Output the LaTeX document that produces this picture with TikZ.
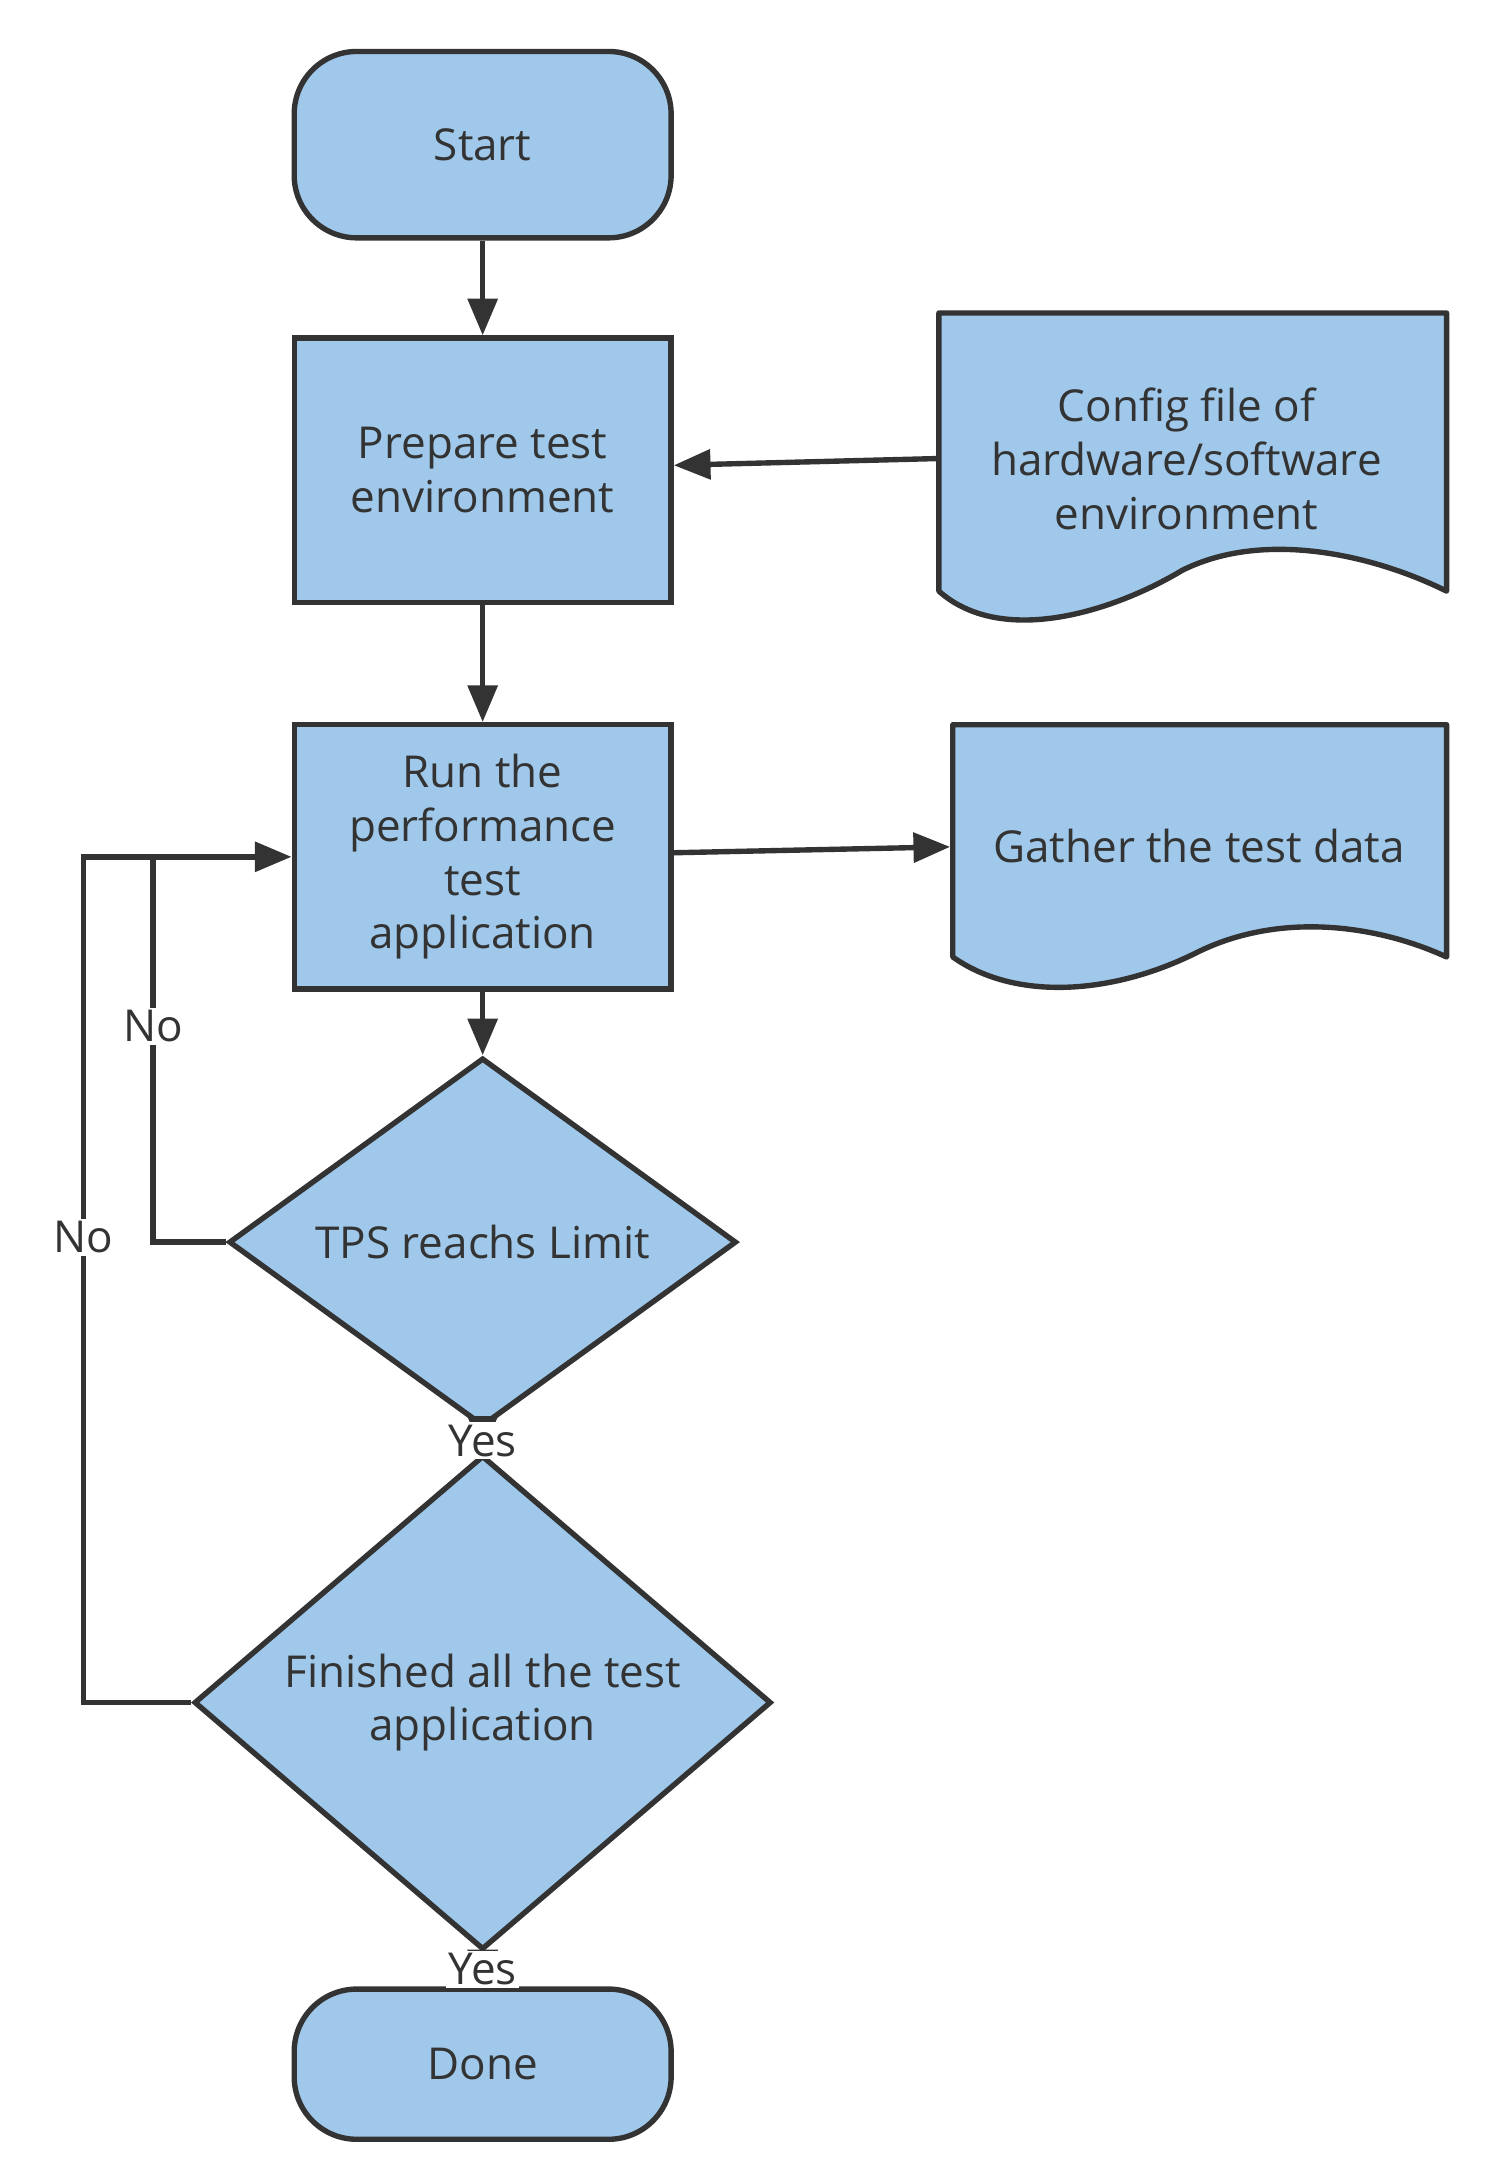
\documentclass[tikz,border=0pt]{standalone}
\usepackage{fontspec}
\setmainfont{Open Sans}
\usetikzlibrary{arrows.meta,shapes.geometric}
\definecolor{boxfill}{HTML}{9FC8EA}
\definecolor{ink}{HTML}{333333}
\begin{document}
\begin{tikzpicture}[
    x=0.02cm, y=-0.02cm,
    line width=2.2pt,
    every node/.style={font=\fontsize{18}{22}\selectfont, text=ink, align=center},
    proc/.style={draw=ink, fill=boxfill, minimum width=271*0.02cm, minimum height=190*0.02cm},
    term/.style={draw=ink, fill=boxfill, rounded corners=0.9cm, minimum width=271*0.02cm},
    dec/.style={draw=ink, fill=boxfill, diamond, inner sep=0pt},
    doc/.style={draw=ink, fill=boxfill, line join=round},
    arr/.style={draw=ink, -{Triangle[length=15pt,width=12pt]}},
    lbl/.style={fill=white, inner sep=1pt}
  ]
  \useasboundingbox (0,0) rectangle (1080,1568);
  % terminals and processes
  \node[term, minimum height=134*0.02cm] (start) at (347,104) {Start};
  \node[proc] (prep) at (347,338) {Prepare test\\environment};
  \node[proc] (run) at (347,616) {Run the\\performance\\test\\application};
  \node[term, minimum height=108*0.02cm] (done) at (347,1484) {Done};
  % decisions
  \node[dec, minimum width=365*0.02cm, minimum height=202*0.02cm] (tps) at (347,893) {TPS reachs Limit};
  \node[dec, minimum width=415*0.02cm, minimum height=308*0.02cm] (fin) at (347,1224) {Finished all the test\\application};
  % documents
  \draw[doc] (675,225) -- (1040,225) -- (1040,425)
    .. controls (990,400) and (910,380) .. (850,410)
    .. controls (800,440) and (720,465) .. (675,425) -- cycle;
  \node[minimum width=365*0.02cm, minimum height=200*0.02cm] (cfg) at (857.5,325) {};
  \node at (853,330) {Config file of\\hardware/software\\environment};
  \draw[doc] (685,521) -- (1040,521) -- (1040,688)
    .. controls (990,665) and (920,655) .. (860,685)
    .. controls (800,715) and (730,720) .. (685,688) -- cycle;
  \node[minimum width=355*0.02cm, minimum height=170*0.02cm] (gath) at (862.5,605) {};
  \node at (862,608) {Gather the test data};
  % connectors
  \draw[arr] (start) -- (prep);
  \draw[arr] (cfg) -- (prep);
  \draw[arr] (prep) -- (run);
  \draw[arr] (run) -- (gath);
  \draw[arr] (run) -- (tps);
  \draw[arr] (tps) -- node[lbl, pos=0.5] {Yes} (fin);
  \draw[arr] (fin) -- node[lbl, pos=0.5] {Yes} (done);
  \coordinate (l1) at (110,893);
  \coordinate (l1t) at (110,616);
  \coordinate (l2) at (60,1224);
  \coordinate (l2t) at (60,616);
  \draw[draw=ink] (tps.west) -- (l1) -- node[lbl, pos=0.56] {No} (l1t);
  \draw[arr] (fin.west) -- (l2) -- node[lbl, pos=0.55] {No} (l2t) -- (run.west);
\end{tikzpicture}
\end{document}
